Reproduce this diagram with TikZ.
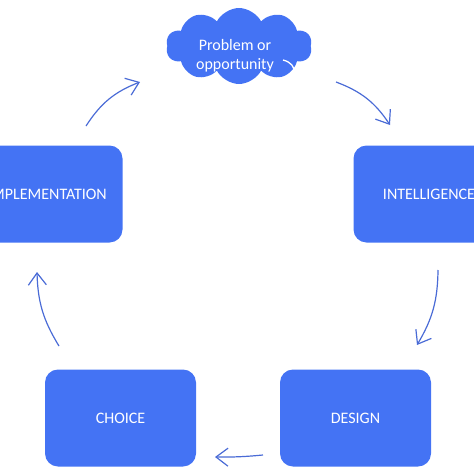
\documentclass[tikz,border=0pt]{standalone}
\usepackage{fontspec}
\setmainfont{Carlito}
\usetikzlibrary{shapes.symbols,arrows.meta}
\definecolor{boxblue}{HTML}{4473F4}
\definecolor{arrowblue}{HTML}{4A6BD6}
\tikzset{
  phase/.style={fill=boxblue, rounded corners=13pt, minimum width=151pt,
    minimum height=97pt, text=white, font=\fontsize{16}{19}\selectfont},
  cyclearrow/.style={draw=arrowblue, line width=1.2pt,
    -{Straight Barb[length=12pt,width=18pt,line width=1.2pt]}}
}
\begin{document}
\begin{tikzpicture}[x=1pt,y=-1pt]
    \useasboundingbox (0,0) rectangle (474,474);
    \clip (0,0) rectangle (474,474);
    % the problem cloud
    \node[cloud, cloud puffs=10, cloud puff arc=125, aspect=2, fill=boxblue,
      minimum width=146pt, minimum height=76pt, inner sep=0pt] (problem) at (239,46) {};
    \draw[white, line width=1.3pt] (283,60) .. controls (291,62) and (295,67) .. (294,73);
    \draw[white, line width=1.3pt] (263,79) .. controls (265,82) and (266,85) .. (265,88);
    \node[text=white, align=center, font=\fontsize{16}{19}\selectfont] (problemtext) at (235,56) {Problem or\\opportunity};
    % the four phases
    \node[phase] (implementation) at (47,194) {IMPLEMENTATION};
    \node[phase] (intelligence) at (429,194) {INTELLIGENCE};
    \node[phase] (design) at (355.5,418) {DESIGN};
    \node[phase] (choice) at (120.5,418) {CHOICE};
    % free ends of the arrows
    \coordinate (a1) at (336,82);  \coordinate (b1) at (390,125);
    \coordinate (a2) at (438,270); \coordinate (b2) at (417,345);
    \coordinate (a3) at (263,455); \coordinate (b3) at (215,457);
    \coordinate (a4) at (59,346);  \coordinate (b4) at (37,272);
    \coordinate (a5) at (86,126);  \coordinate (b5) at (140,82);
    \draw[cyclearrow] (a1) to[bend left=18] (b1);
    \draw[cyclearrow] (a2) to[bend left=15] (b2);
    \draw[cyclearrow] (a3) to[bend left=3] (b3);
    \draw[cyclearrow] (a4) to[bend left=15] (b4);
    \draw[cyclearrow] (a5) to[bend left=18] (b5);
\end{tikzpicture}
\end{document}
